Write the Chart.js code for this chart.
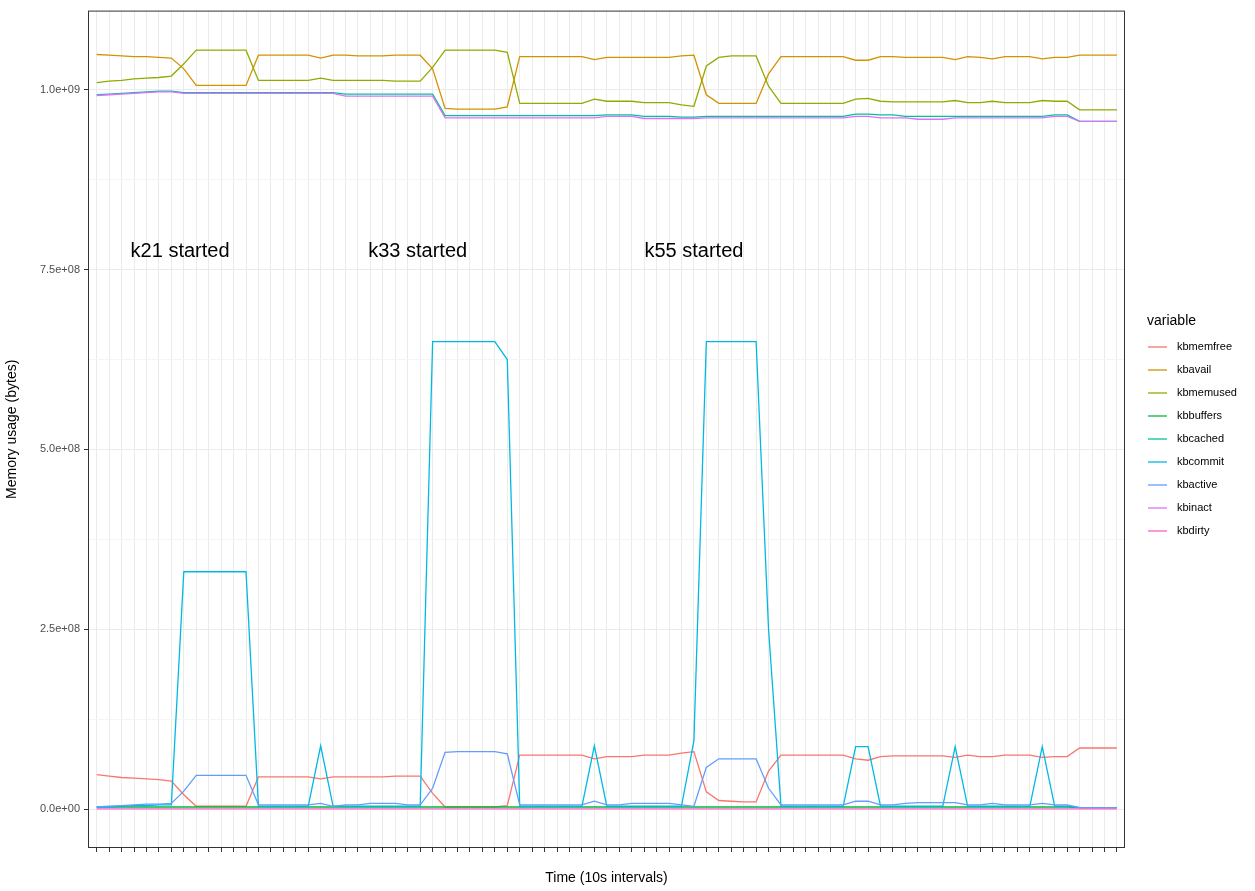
<!DOCTYPE html>
<html>
<head>
<meta charset="utf-8">
<script src="https://cdn.jsdelivr.net/npm/chart.js@4/dist/chart.umd.min.js"></script>
<style>
  html, body { margin: 0; padding: 0; background: #fff; }
  #wrap { width: 1255px; height: 891px; }
</style>
</head>
<body>
<div id="wrap"><canvas id="chart"></canvas></div>
<script>
// values in millions of bytes, one per 10s interval (83 samples)
const seriesNames = ['kbmemfree', 'kbavail', 'kbmemused', 'kbbuffers', 'kbcached', 'kbcommit', 'kbactive', 'kbinact', 'kbdirty'];
const seriesColors = ['#F8766D', '#D39200', '#93AA00', '#00BA38', '#00C19F', '#00B9E3', '#619CFF', '#DB72FB', '#FF61C3'];

const kbmemfree = [48,46,44,43,42,41,39, 20, 4,4,4,4,4, 45,45,45,45,45, 42, 45,45,45,45,45,46,46,46,
  22, 3,3,3,3,3, 5, 75,75,75,75,75,75, 70,
  73,73,73,75,75,75,78,80, 24,12,11,10,10,53, 75,75,75,75,75,75,
  70,68,73, 74,74,74,74,74, 72,75,73,73, 75,75,75, 72,73,73, 85,85,85,85];
const kbavail = [1049,1048,1047,1046,1046,1045,1044, 1029, 1006,1006,1006,1006,1006,
  1048,1048,1048,1048,1048, 1044, 1048,1048,1047,1047,1047,1048,1048,1048,
  1029, 974,973,973,973,973, 976, 1046,1046,1046,1046,1046,1046, 1042,
  1045,1045,1045,1045,1045,1045,1047,1048, 993, 981,981,981,981, 1022,
  1046,1046,1046,1046,1046,1046, 1041,1041, 1046,1046,1045,1045,1045,1045,
  1042,1046,1045,1043, 1046,1046,1046, 1043,1045,1045, 1048,1048,1048,1048];
const kbmemused = [1010,1012,1013,1015,1016,1017,1019, 1036, 1055,1055,1055,1055,1055,
  1013,1013,1013,1013,1013, 1016, 1013,1013,1013,1013,1013,1012,1012,1012,
  1031, 1055,1055,1055,1055,1055, 1052, 981,981,981,981,981,981, 987,
  984,984,984,982,982,982,979,977, 1033, 1045, 1047,1047,1047, 1005,
  981,981,981,981,981,981, 987,988, 984,983,983,983,983,983,
  985,982,982,984, 982,982,982, 985,984,984, 972,972,972,972];
const kbbuffers = [3,3,3,3,3,3,3,3,3,3,3,3,3,3,3,3,3,3,3,3,3,3,3,3,3,3,3,3,3,3,3,3,3,3,3,3,3,3,3,3,3,
  3,3,3,3,3,3,3,3,3,3,3,3,3,3,3,3,3,3,3,3,3,3,3,3,3,3,3,3,3,3,3,3,3,3,3,3,3,3, 2,2,2,2];
const kbcached = [993,994,995,996,997,998,998,
  996,996,996,996,996,996,996,996,996,996,996,996,996,
  994,994,994,994,994,994,994,994,
  964,964,964,964,964,964,964,964,964,964,964,964,964,
  965,965,965, 963,963,963, 962,962,
  963,963,963,963,963,963,963,963,963,963,963,963,
  966,966, 965,965, 963,963,963,963,963,963,963,963,963,963,963,963,
  965,965, 956,956,956,956];
const kbcommit = [2,3,4,5,5,6,6, 330,330,330,330,330,330, 4,4,4,4,4, 88, 4,4,4,4,4,4,4,4,
  650,650,650,650,650,650, 625, 4,4,4,4,4,4, 88,
  4,4,4,4,4,4,4, 95, 650,650,650,650,650, 250, 4,4,4,4,4,4,
  87,87, 4,4,4,4,4,4, 87, 4,4,4,4,4,4, 87, 4,4, 2,2,2,2];
const kbactive = [3,4,5,6,7,7,8, 25, 47,47,47,47,47, 6,6,6,6,6, 8, 4, 6,6, 8,8,8, 6,6,
  29, 79,80,80,80,80, 77, 6,6,6,6,6,6, 11,
  6,6,8,8,8,8,6,4, 58, 70,70,70,70, 29, 6,6,6,6,6,6,
  11,11, 6,6, 8, 9,9,9,9, 6,6,8, 6,6,6, 8,6,6, 2,2,2,2];
const kbinact = [992,993,994,995,996,997,997,
  995,995,995,995,995,995,995,995,995,995,995,995,995,
  991,991,991,991,991,991,991,991,
  961,961,961,961,961,961,961,961,961,961,961,961,961,
  963,963,963, 960,960,960,960,960,
  961,961,961,961,961,961,961,961,961,961,961,961,
  963,963, 961,961,961, 959,959,959, 961,961,961,961,961,961,961,961,
  963,963, 956,956,956,956];
const kbdirty = new Array(83).fill(0.3);

const yTickValues = [0, 2.5e8, 5e8, 7.5e8, 1e9];
const yTickLabels = ['0.0e+00', '2.5e+08', '5.0e+08', '7.5e+08', '1.0e+09'];
const notes = [
  { text: 'k21 started', x: 6.7, y: 7.75e8 },
  { text: 'k33 started', x: 25.8, y: 7.75e8 },
  { text: 'k55 started', x: 48.0, y: 7.75e8 }
];

const allSeries = [kbmemfree, kbavail, kbmemused, kbbuffers, kbcached, kbcommit, kbactive, kbinact, kbdirty];

const datasets = allSeries.map((vals, k) => ({
  label: seriesNames[k],
  data: vals.map((v, i) => ({ x: i, y: v * 1e6 })),
  borderColor: seriesColors[k],
  borderWidth: 1.3,
  pointRadius: 0,
  tension: 0,
  fill: false,
  order: 9 - k
}));

const FONT = '"Liberation Sans", Arial, sans-serif';

const extras = {
  id: 'extras',
  afterDraw(chart) {
    const ctx = chart.ctx;
    const a = chart.chartArea;
    const xs = chart.scales.x, ys = chart.scales.y;
    ctx.save();
    // panel border
    ctx.strokeStyle = '#333';
    ctx.lineWidth = 1;
    ctx.strokeRect(a.left + 0.5, a.top + 0.5, a.right - a.left - 1, a.bottom - a.top - 1);
    // annotations
    ctx.fillStyle = '#000';
    ctx.font = '20px ' + FONT;
    ctx.textAlign = 'center';
    ctx.textBaseline = 'middle';
    notes.forEach(n => ctx.fillText(n.text, xs.getPixelForValue(n.x), ys.getPixelForValue(n.y)));
    // legend
    ctx.textAlign = 'left';
    ctx.font = '14px ' + FONT;
    ctx.fillText('variable', 1147, 321);
    ctx.font = '11px ' + FONT;
    seriesNames.forEach((name, k) => {
      const y = 347 + k * 23;
      ctx.strokeStyle = seriesColors[k];
      ctx.lineWidth = 1.3;
      ctx.beginPath();
      ctx.moveTo(1148, y);
      ctx.lineTo(1167, y);
      ctx.stroke();
      ctx.fillStyle = '#000';
      ctx.fillText(name, 1177, y);
    });
    ctx.restore();
  }
};

new Chart(document.getElementById('chart'), {
  type: 'line',
  data: { datasets },
  options: {
    responsive: true,
    maintainAspectRatio: false,
    animation: false,
    layout: { padding: { top: 5, right: 130, bottom: 0, left: 0 } },
    plugins: { legend: { display: false }, tooltip: { enabled: false } },
    scales: {
      x: {
        type: 'linear',
        min: -0.7,
        max: 82.65,
        afterBuildTicks(scale) {
          scale.ticks = kbmemfree.map((v, i) => ({ value: i }));
        },
        afterFit(scale) { scale.height = 43; },
        ticks: { display: true, callback: () => '', autoSkip: false, padding: 0 },
        grid: { color: '#EBEBEB', tickColor: '#333', tickLength: 4, lineWidth: 1 },
        border: { display: false },
        title: { display: true, text: 'Time (10s intervals)', color: '#000', font: { family: FONT, size: 14 }, padding: { top: 8 } }
      },
      y: {
        min: -0.54e8,
        max: 11.1e8,
        afterBuildTicks(scale) {
          const t = [];
          for (let v = 0; v <= 1.0e9 + 1; v += 1.25e8) t.push({ value: v });
          scale.ticks = t;
        },
        afterFit(scale) { scale.width = 88; },
        ticks: {
          color: '#4D4D4D',
          font: { family: FONT, size: 11 },
          padding: 4,
          callback(v) {
            const idx = yTickValues.findIndex(t => Math.abs(t - v) < 1);
            return idx >= 0 ? yTickLabels[idx] : '';
          }
        },
        grid: {
          color: ctx => (ctx.tick && Math.abs((ctx.tick.value / 2.5e8) - Math.round(ctx.tick.value / 2.5e8)) < 1e-6) ? '#EBEBEB' : '#F5F5F5',
          tickColor: ctx => (ctx.tick && Math.abs((ctx.tick.value / 2.5e8) - Math.round(ctx.tick.value / 2.5e8)) < 1e-6) ? '#333' : 'rgba(0,0,0,0)',
          tickLength: 4
        },
        border: { display: false },
        title: { display: true, text: 'Memory usage (bytes)', color: '#000', font: { family: FONT, size: 14 }, padding: { bottom: 6 } }
      }
    }
  },
  plugins: [extras]
});
</script>
</body>
</html>
